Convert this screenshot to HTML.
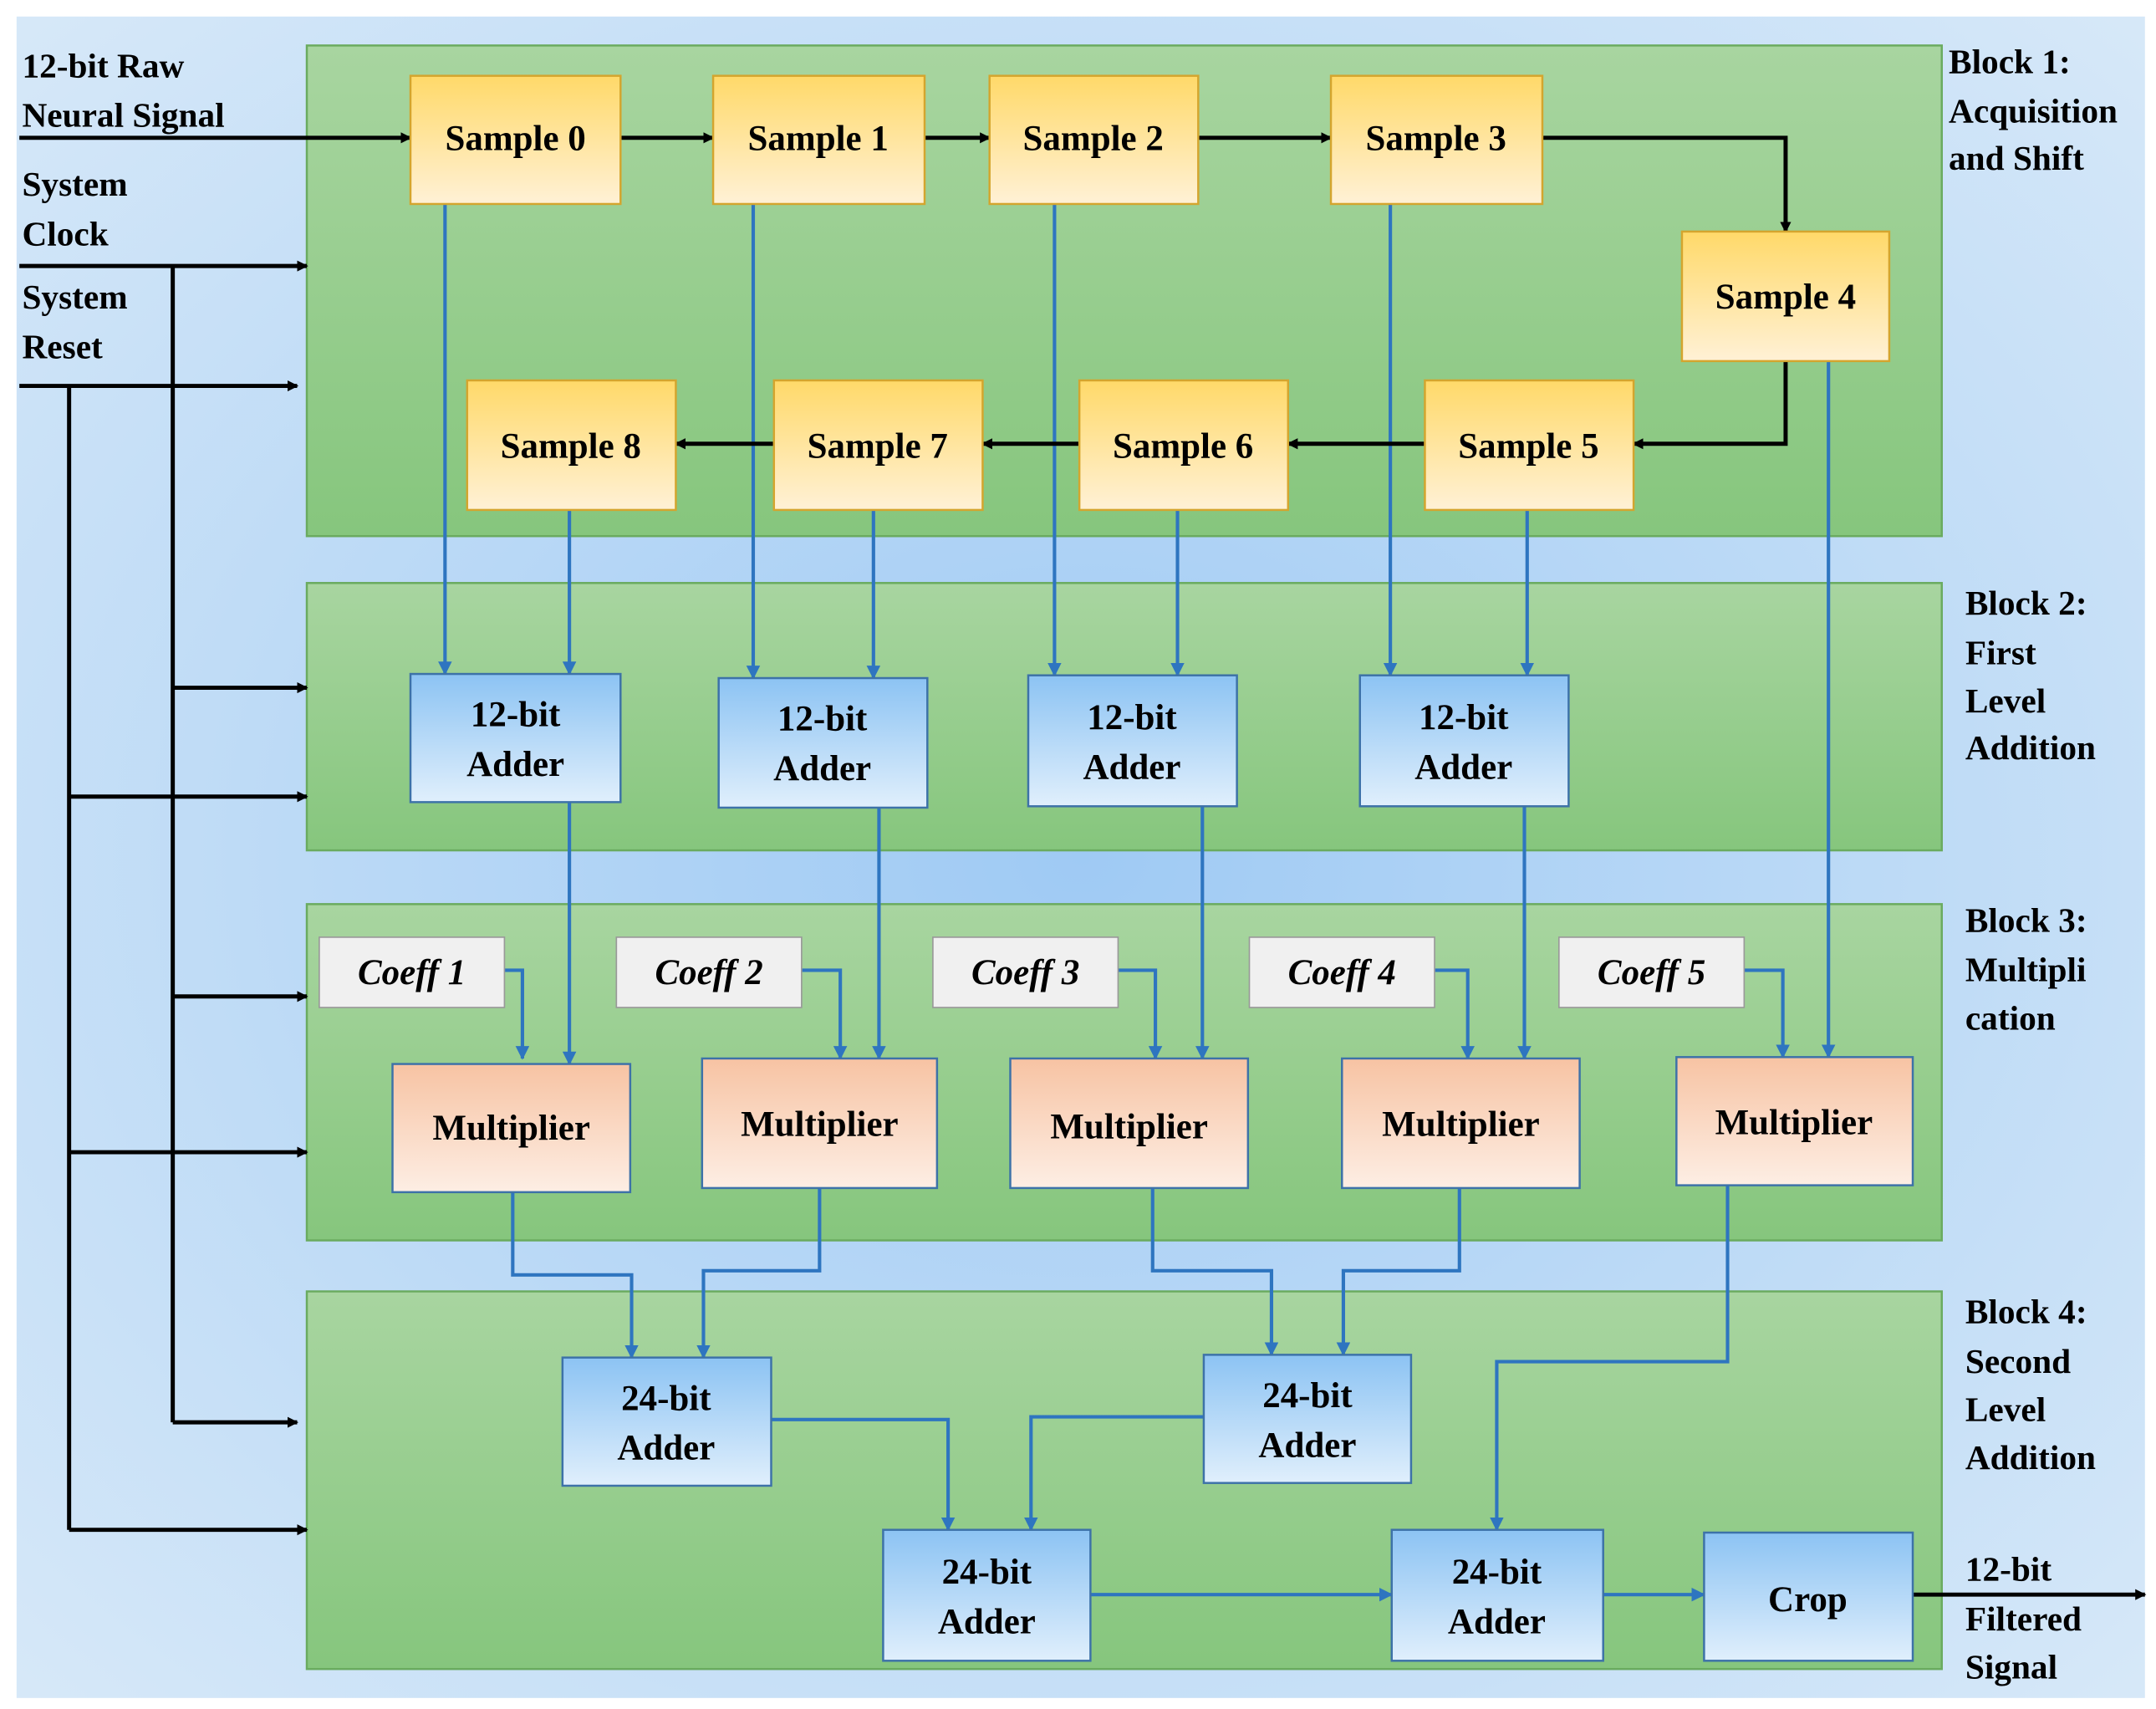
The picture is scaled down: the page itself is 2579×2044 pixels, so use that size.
<!DOCTYPE html>
<html><head><meta charset="utf-8"><style>
html,body{margin:0;padding:0;background:#fff;}
svg{display:block;}
svg text{font-family:"Liberation Serif","Times New Roman",Times,serif;font-weight:bold;fill:#000;}
</style></head><body>
<svg width="2579" height="2044" viewBox="0 0 1560 1240" preserveAspectRatio="none" xmlns="http://www.w3.org/2000/svg">
<defs>
<radialGradient id="bg" cx="0.5" cy="0.5" r="0.7">
<stop offset="0" stop-color="#9fcaf4"/><stop offset="1" stop-color="#d6e8f8"/></radialGradient>
<linearGradient id="gr" x1="0" y1="0" x2="0" y2="1"><stop offset="0" stop-color="#a8d5a0"/><stop offset="1" stop-color="#86c67d"/></linearGradient>
<linearGradient id="ye" x1="0" y1="0" x2="0" y2="1"><stop offset="0" stop-color="#ffd969"/><stop offset="1" stop-color="#fff1d6"/></linearGradient>
<linearGradient id="bl" x1="0" y1="0" x2="0" y2="1"><stop offset="0" stop-color="#8cc3f3"/><stop offset="1" stop-color="#e0effc"/></linearGradient>
<linearGradient id="pe" x1="0" y1="0" x2="0" y2="1"><stop offset="0" stop-color="#f7c3a3"/><stop offset="1" stop-color="#fdeee4"/></linearGradient>
<marker id="ak" markerWidth="8" markerHeight="8" refX="7" refY="4" orient="auto" markerUnits="userSpaceOnUse"><path d="M0,0 L8,4 L0,8 z" fill="#000"/></marker>
<marker id="ab" markerWidth="10" markerHeight="10" refX="9" refY="5" orient="auto" markerUnits="userSpaceOnUse"><path d="M0,0 L10,5 L0,10 z" fill="#2e75c0"/></marker>
</defs>
<rect x="12" y="12" width="1540" height="1220" fill="url(#bg)"/>
<g fill="url(#gr)" stroke="#6aab5f" stroke-width="1.5">
<rect x="222" y="33" width="1183" height="356"/>
<rect x="222" y="423" width="1183" height="194"/>
<rect x="222" y="656" width="1183" height="244"/>
<rect x="222" y="937" width="1183" height="274"/>
</g>
<g stroke="#2e75c0" stroke-width="2.5" fill="none" marker-end="url(#ab)">
<path d="M322,148V489"/><path d="M412,370V489"/><path d="M545,148V492"/><path d="M632,370V492"/>
<path d="M763,148V490"/><path d="M852,370V490"/><path d="M1006,148V490"/><path d="M1105,370V490"/>
<path d="M1323,262V767"/>
<path d="M412,582V772"/><path d="M636,586V768"/><path d="M870,585V768"/><path d="M1103,585V768"/>
<path d="M365,704H378V768"/><path d="M580,704H608V768"/><path d="M809,704H836V768"/><path d="M1038,704H1062V768"/><path d="M1262,704H1290V767"/>
<path d="M371,865V925H457V985"/><path d="M593,862V922H509V985"/><path d="M834,862V922H920V983"/><path d="M1056,862V922H972V983"/>
<path d="M1250,860V988H1083V1110"/>
<path d="M558,1030H686V1110"/><path d="M871,1028H746V1110"/>
<path d="M789,1157H1007"/><path d="M1160,1157H1233"/>
</g>
<g stroke="#000" stroke-width="3" fill="none" marker-end="url(#ak)">
<path d="M14,100H297"/><path d="M449,100H516"/><path d="M669,100H716"/><path d="M867,100H963"/>
<path d="M1116,100H1292V168"/><path d="M1292,262V322H1182"/>
<path d="M1031,322H932"/><path d="M781,322H711"/><path d="M560,322H489"/>
<path d="M14,193H222"/><path d="M14,280H215"/>
<path d="M125,499H222"/><path d="M125,723H222"/><path d="M125,1032H215"/>
<path d="M50,578H222"/><path d="M50,836H222"/><path d="M50,1110H222"/>
<path d="M1384,1157H1552"/>
</g>
<g stroke="#000" stroke-width="3" fill="none"><path d="M125,193V1032"/><path d="M50,280V1110"/></g>
<g fill="url(#ye)" stroke="#d4a52e" stroke-width="1.5">
<rect x="297" y="55" width="152" height="93"/><rect x="516" y="55" width="153" height="93"/>
<rect x="716" y="55" width="151" height="93"/><rect x="963" y="55" width="153" height="93"/>
<rect x="1217" y="168" width="150" height="94"/><rect x="1031" y="276" width="151" height="94"/>
<rect x="781" y="276" width="151" height="94"/><rect x="560" y="276" width="151" height="94"/>
<rect x="338" y="276" width="151" height="94"/>
</g>
<g fill="url(#bl)" stroke="#3d72a8" stroke-width="1.5">
<rect x="297" y="489" width="152" height="93"/><rect x="520" y="492" width="151" height="94"/>
<rect x="744" y="490" width="151" height="95"/><rect x="984" y="490" width="151" height="95"/>
<rect x="407" y="985" width="151" height="93"/><rect x="871" y="983" width="150" height="93"/>
<rect x="639" y="1110" width="150" height="95"/><rect x="1007" y="1110" width="153" height="95"/>
<rect x="1233" y="1112" width="151" height="93"/>
</g>
<g fill="#f0f0f0" stroke="#999" stroke-width="1">
<rect x="231" y="680" width="134" height="51"/><rect x="446" y="680" width="134" height="51"/>
<rect x="675" y="680" width="134" height="51"/><rect x="904" y="680" width="134" height="51"/>
<rect x="1128" y="680" width="134" height="51"/>
</g>
<g fill="url(#pe)" stroke="#3d72a8" stroke-width="1.5">
<rect x="284" y="772" width="172" height="93"/><rect x="508" y="768" width="170" height="94"/>
<rect x="731" y="768" width="172" height="94"/><rect x="971" y="768" width="172" height="94"/>
<rect x="1213" y="767" width="171" height="93"/>
</g>
<g font-family="Liberation Serif, serif" font-weight="bold">
<g font-size="26" text-anchor="middle">
<text x="373" y="109">Sample 0</text><text x="592" y="109">Sample 1</text><text x="791" y="109">Sample 2</text><text x="1039" y="109">Sample 3</text>
<text x="1292" y="224">Sample 4</text><text x="1106" y="332">Sample 5</text><text x="856" y="332">Sample 6</text><text x="635" y="332">Sample 7</text><text x="413" y="332">Sample 8</text>
<text x="373" y="527">12-bit</text><text x="373" y="563">Adder</text>
<text x="595" y="530">12-bit</text><text x="595" y="566">Adder</text>
<text x="819" y="529">12-bit</text><text x="819" y="565">Adder</text>
<text x="1059" y="529">12-bit</text><text x="1059" y="565">Adder</text>
<text x="482" y="1023">24-bit</text><text x="482" y="1059">Adder</text>
<text x="946" y="1021">24-bit</text><text x="946" y="1057">Adder</text>
<text x="714" y="1149">24-bit</text><text x="714" y="1185">Adder</text>
<text x="1083" y="1149">24-bit</text><text x="1083" y="1185">Adder</text>
<text x="1308" y="1169">Crop</text>
<text x="370" y="827">Multiplier</text><text x="593" y="824">Multiplier</text><text x="817" y="826">Multiplier</text><text x="1057" y="824">Multiplier</text><text x="1298" y="823">Multiplier</text>
<g font-style="italic"><text x="298" y="714">Coeff 1</text><text x="513" y="714">Coeff 2</text><text x="742" y="714">Coeff 3</text><text x="971" y="714">Coeff 4</text><text x="1195" y="714">Coeff 5</text></g>
</g>
<g font-size="25">
<text x="16" y="56">12-bit Raw</text><text x="16" y="92">Neural Signal</text>
<text x="16" y="142">System</text><text x="16" y="178">Clock</text>
<text x="16" y="224">System</text><text x="16" y="260">Reset</text>
<text x="1410" y="53">Block 1:</text><text x="1410" y="89">Acquisition</text><text x="1410" y="123">and Shift</text>
<text x="1422" y="446">Block 2:</text><text x="1422" y="482">First</text><text x="1422" y="517">Level</text><text x="1422" y="551">Addition</text>
<text x="1422" y="676">Block 3:</text><text x="1422" y="712">Multipli</text><text x="1422" y="747">cation</text>
<text x="1422" y="960">Block 4:</text><text x="1422" y="996">Second</text><text x="1422" y="1031">Level</text><text x="1422" y="1066">Addition</text>
<text x="1422" y="1147">12-bit</text><text x="1422" y="1183">Filtered</text><text x="1422" y="1218">Signal</text>
</g>
</g>
</svg>
</body></html>
